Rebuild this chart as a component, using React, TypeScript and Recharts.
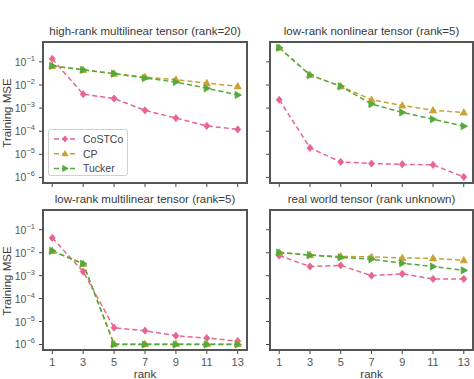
import React from 'react';
import { Legend, Line, LineChart, XAxis, YAxis } from 'recharts';

const FONT = '"Liberation Sans", Arial, sans-serif';

const ranks = [1, 3, 5, 7, 9, 11, 13];
const yTicks = [1e-6, 1e-5, 1e-4, 1e-3, 1e-2, 1e-1];

// high-rank multilinear tensor (rank=20)
const highCostco = [0.135, 0.004, 0.0026, 0.0008, 0.00037, 0.00017, 0.00012];
const highCp = [0.067, 0.045, 0.031, 0.022, 0.017, 0.012, 0.0088];
const highTucker = [0.067, 0.045, 0.031, 0.02, 0.0135, 0.0072, 0.0037];

// low-rank nonlinear tensor (rank=5)
const nonlinCostco = [0.0023, 0.000019, 0.0000047, 0.000004, 0.0000037, 0.0000035, 0.00000105];
const nonlinCp = [0.41, 0.027, 0.0088, 0.0023, 0.0013, 0.0008, 0.00065];
const nonlinTucker = [0.41, 0.027, 0.0088, 0.0015, 0.00065, 0.00033, 0.000165];

// low-rank multilinear tensor (rank=5)
const lowCostco = [0.044, 0.0015, 0.0000054, 0.000004, 0.0000024, 0.0000019, 0.0000014];
const lowCp = [0.012, 0.0033, 0.00000105, 0.00000105, 0.00000105, 0.00000105, 0.00000105];
const lowTucker = [0.012, 0.0033, 0.000001, 0.000001, 0.000001, 0.000001, 0.000001];

// real world tensor (rank unknown)
const realCostco = [0.0075, 0.0025, 0.0028, 0.001, 0.0012, 0.00072, 0.00072];
const realCp = [0.0102, 0.0079, 0.0069, 0.0065, 0.0059, 0.0057, 0.0047];
const realTucker = [0.0102, 0.0078, 0.0063, 0.0052, 0.0035, 0.0025, 0.0017];

const series = [
  { key: 'costco', name: 'CoSTCo', color: '#e8668d', shape: 'diamond' },
  { key: 'cp', name: 'CP', color: '#c9a232', shape: 'up' },
  { key: 'tucker', name: 'Tucker', color: '#53a93b', shape: 'right' },
];

const toRows = (a: number[], b: number[], c: number[]) =>
  ranks.map((rank, i) => ({ rank, costco: a[i], cp: b[i], tucker: c[i] }));

function markerPoints(shape: string, cx: number, cy: number) {
  if (shape === 'diamond') return `${cx},${cy - 3.6} ${cx + 3},${cy} ${cx},${cy + 3.6} ${cx - 3},${cy}`;
  if (shape === 'up') return `${cx},${cy - 3.8} ${cx + 3.6},${cy + 2.6} ${cx - 3.6},${cy + 2.6}`;
  return `${cx + 3.8},${cy} ${cx - 2.6},${cy - 3.6} ${cx - 2.6},${cy + 3.6}`;
}

const makeDot = (shape: string, color: string) => (props: any) => {
  const { cx, cy, index } = props;
  if (cx == null || cy == null) return <g key={index} />;
  return <polygon key={index} points={markerPoints(shape, cx, cy)} fill={color} stroke={color} strokeWidth={0.8} />;
};

function PowTick(props: any) {
  const { x, y, payload } = props;
  const exp = Math.round(Math.log10(payload.value));
  return (
    <text x={x} y={y} dy={4} textAnchor="end" fill="#555" fontSize={10.5} fontFamily={FONT}>
      10
      <tspan dy={-5} fontSize={7.5}>{'\u2212' + String(-exp)}</tspan>
    </text>
  );
}

const NoTick = () => <g />;

function LegendBox() {
  return (
    <div
      style={{
        width: 80,
        height: 47,
        border: '1px solid #d0d0d0',
        borderRadius: 3,
        background: 'rgba(255,255,255,0.85)',
        boxSizing: 'border-box',
      }}
    >
      <svg width={78} height={45}>
        {series.map((s, i) => {
          const y = 9 + i * 14.7;
          return (
            <g key={s.key}>
              <line x1={5} x2={28} y1={y} y2={y} stroke={s.color} strokeWidth={1.5} strokeDasharray="5 3" />
              <polygon points={markerPoints(s.shape, 16, y)} fill={s.color} />
              <text x={34} y={y + 4} fontSize={10.5} fill="#444" fontFamily={FONT}>
                {s.name}
              </text>
            </g>
          );
        })}
      </svg>
    </div>
  );
}

interface PanelProps {
  title: string;
  data: Array<Record<string, number>>;
  box: [number, number, number, number];
  xLabels: boolean;
  yLabels: boolean;
  legend?: boolean;
}

const W = 474;
const H = 379;
const Y_AXIS_W = 30;
const X_AXIS_H = 20;

function Panel({ title, data, box, xLabels, yLabels, legend }: PanelProps) {
  const [l, t, r, b] = box;
  return (
    <>
      <div
        style={{
          position: 'absolute',
          left: l - 10,
          top: t - 17,
          width: r - l + 20,
          textAlign: 'center',
          fontSize: 11.5,
          color: '#3a3a3a',
          fontFamily: FONT,
          whiteSpace: 'nowrap',
        }}
      >
        {title}
      </div>
      <div style={{ position: 'absolute', left: 0, top: 0 }}>
        <LineChart
          width={W}
          height={H}
          data={data}
          margin={{ top: t, left: l - Y_AXIS_W, right: W - r, bottom: H - b - X_AXIS_H }}
        >
          <XAxis
            dataKey="rank"
            type="number"
            domain={[0.4, 13.6]}
            ticks={ranks}
            interval={0}
            height={X_AXIS_H}
            axisLine={false}
            tickSize={4}
            tickMargin={4}
            tickLine={{ stroke: '#444' }}
            tick={xLabels ? { fill: '#555', fontSize: 11, fontFamily: FONT } : NoTick}
          />
          <YAxis
            scale="log"
            domain={[Math.pow(10, -6.24), Math.pow(10, -0.14)]}
            allowDataOverflow
            ticks={yTicks}
            interval={0}
            width={Y_AXIS_W}
            axisLine={false}
            tickSize={4}
            tickMargin={4}
            tickLine={{ stroke: '#444' }}
            tick={yLabels ? PowTick : NoTick}
          />
          {legend && (
            <Legend
              layout="vertical"
              align="center"
              verticalAlign="middle"
              content={() => <LegendBox />}
              wrapperStyle={{ left: 48, top: 129, width: 80, height: 47 }}
            />
          )}
          {series.map((s) => (
            <Line
              key={s.key}
              dataKey={s.key}
              name={s.name}
              type="linear"
              stroke={s.color}
              strokeWidth={1.5}
              strokeDasharray="5 3"
              dot={makeDot(s.shape, s.color)}
              activeDot={false}
              isAnimationActive={false}
            />
          ))}
        </LineChart>
      </div>
      <div
        style={{
          position: 'absolute',
          left: l - 1,
          top: t - 1,
          width: r - l + 2,
          height: b - t + 2,
          border: '2px solid #555',
          boxSizing: 'border-box',
          pointerEvents: 'none',
        }}
      />
    </>
  );
}

function AxisText({ text, x, y, rotate }: { text: string; x: number; y: number; rotate?: boolean }) {
  return (
    <div
      style={{
        position: 'absolute',
        left: x - 60,
        top: y - 7,
        width: 120,
        height: 14,
        lineHeight: '14px',
        textAlign: 'center',
        fontSize: 11.5,
        color: '#3a3a3a',
        fontFamily: FONT,
        transform: rotate ? 'rotate(-90deg)' : undefined,
      }}
    >
      {text}
    </div>
  );
}

export default function App() {
  return (
    <div style={{ position: 'absolute', left: 0, top: 0, width: W, height: H, overflow: 'hidden', background: '#fff' }}>
      <Panel
        title="high-rank multilinear tensor (rank=20)"
        data={toRows(highCostco, highCp, highTucker)}
        box={[43, 42, 247, 183]}
        xLabels={false}
        yLabels
        legend
      />
      <Panel
        title="low-rank nonlinear tensor (rank=5)"
        data={toRows(nonlinCostco, nonlinCp, nonlinTucker)}
        box={[270, 42, 473, 183]}
        xLabels={false}
        yLabels={false}
      />
      <Panel
        title="low-rank multilinear tensor (rank=5)"
        data={toRows(lowCostco, lowCp, lowTucker)}
        box={[43, 210, 247, 350]}
        xLabels
        yLabels
      />
      <Panel
        title="real world tensor (rank unknown)"
        data={toRows(realCostco, realCp, realTucker)}
        box={[270, 210, 473, 350]}
        xLabels
        yLabels={false}
      />
      <AxisText text="Training MSE" x={7} y={113} rotate />
      <AxisText text="Training MSE" x={7} y={281} rotate />
      <AxisText text="rank" x={145} y={374} />
      <AxisText text="rank" x={371.5} y={374} />
    </div>
  );
}
